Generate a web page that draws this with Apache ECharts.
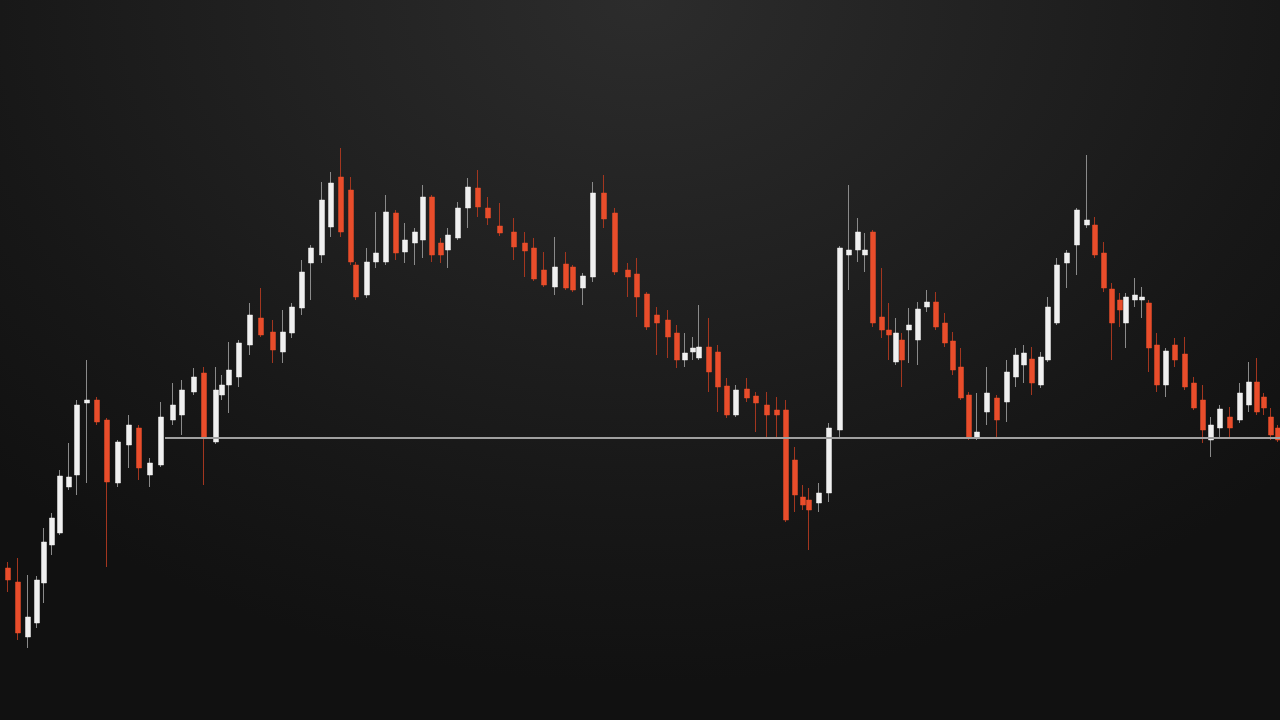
<!DOCTYPE html>
<html>
<head>
<meta charset="utf-8">
<script src="https://cdn.jsdelivr.net/npm/echarts@6/dist/echarts.min.js"></script>
<style>
  html, body { margin: 0; padding: 0; background: #141414; }
  #chart {
    width: 1280px; height: 720px;
    background: radial-gradient(ellipse 70% 95% at 50% 0%, #2c2c2c 0%, #212121 40%, #171717 75%, #111111 100%);
  }
</style>
</head>
<body>
<div id="chart"></div>
<script>
// time position of each session (irregular spacing)
const session = [8,18,28,37,44,52,60,69,77,87,97,107,118,129,139,150,161,173,182,194,204,216,222,229,239,250,261,273,283,292,302,311,322,331,341,351,356,367,376,386,396,405,415,423,432,441,448,458,468,478,488,500,514,525,534,544,555,566,573,583,593,604,615,628,637,647,657,668,677,685,693,699,709,718,727,736,747,756,767,777,786,795,803,809,819,829,840,849,858,865,873,882,889,896,902,909,918,927,936,945,953,961,969,977,987,997,1007,1016,1024,1032,1041,1048,1057,1067,1077,1087,1095,1104,1112,1120,1126,1135,1142,1149,1157,1166,1175,1185,1194,1203,1211,1220,1230,1240,1249,1257,1264,1271,1278];

const open = [
  152,138,83,97,137,175,187,233,245,317,
  320,300,237,275,292,245,255,300,305,328,
  347,278,325,335,343,375,402,388,368,387,
  412,457,465,493,543,530,455,425,458,458,
  507,468,477,480,523,477,470,482,512,532,
  512,494,488,477,472,450,433,456,453,432,
  443,527,507,450,446,426,405,400,387,360,
  368,362,373,368,334,305,331,324,315,310,
  310,260,223,220,217,227,290,465,470,465,
  488,403,390,358,380,390,380,413,418,397,
  379,353,325,282,308,322,318,343,355,361,
  335,360,397,457,475,495,495,467,431,420,
  397,420,420,417,375,335,375,366,337,320,
  280,292,303,300,315,338,323,303,292
];
const close = [
  140,87,103,140,178,202,244,243,315,320,
  298,238,278,295,252,257,303,315,330,343,
  283,330,335,350,377,405,385,370,388,413,
  448,472,520,537,488,458,423,458,467,508,
  467,480,488,523,465,465,485,512,533,513,
  502,487,473,469,441,435,453,432,430,444,
  527,501,448,443,423,393,397,383,360,367,
  372,373,348,333,305,330,322,317,305,305,
  200,225,215,210,227,292,472,470,488,470,
  397,390,385,387,360,395,411,418,393,377,
  350,322,282,288,327,300,348,365,367,337,
  363,413,455,467,510,500,465,432,397,410,
  423,425,423,372,335,369,360,333,312,290,
  295,311,292,327,338,308,312,285,280
];
const low = [
  128,80,72,92,117,165,185,230,225,237,
  295,153,233,252,240,233,253,295,285,325,
  235,276,320,307,333,365,383,357,357,382,
  405,420,457,483,483,455,420,422,452,455,
  460,457,455,462,458,457,452,480,492,503,
  495,484,460,443,439,433,425,430,428,415,
  438,492,445,423,403,390,365,362,352,353,
  360,360,328,308,302,303,318,288,282,283,
  198,208,210,170,208,218,282,430,458,448,
  393,382,360,355,333,357,355,408,390,373,
  345,320,280,280,295,282,298,333,337,325,
  332,358,395,432,445,492,462,428,360,393,
  372,413,402,348,328,323,353,330,310,277,
  263,283,283,297,308,305,305,280,278
];
const high = [
  158,162,145,144,192,207,250,277,320,360,
  323,302,280,305,295,262,318,337,340,352,
  353,353,345,378,380,417,432,400,410,417,
  460,475,538,548,572,543,458,472,508,525,
  510,497,492,535,525,482,492,518,542,550,
  523,517,502,488,482,468,483,468,455,447,
  538,545,512,457,462,428,413,410,395,387,
  383,415,402,375,342,335,342,328,328,323,
  320,273,235,232,237,297,474,535,502,487,
  490,452,417,402,387,412,418,430,428,407,
  388,372,328,327,353,325,360,372,375,373,
  368,423,462,470,512,565,503,478,437,427,
  427,442,433,420,387,372,382,383,343,335,
  303,315,313,337,358,362,327,312,295
];

// horizontal support level
const supportLevel = 282;
const supportStart = 165;

const wickData = session.map((t, i) => [t, open[i], close[i], low[i], high[i]]);
const bodyData = session.map((t, i) => [t, open[i], close[i], Math.min(open[i], close[i]), Math.max(open[i], close[i])]);

const chart = echarts.init(document.getElementById('chart'), null, { renderer: 'canvas' });
chart.setOption({
  backgroundColor: 'transparent',
  animation: false,
  grid: { left: 0, right: 0, top: 0, bottom: 0 },
  xAxis: { type: 'value', min: 0, max: 1280, show: false },
  yAxis: { type: 'value', min: 0, max: 720, show: false, scale: false },
  series: [
    {
      type: 'candlestick',
      name: 'wicks',
      data: wickData,
      encode: { x: 0, y: [1, 2, 3, 4] },
      barWidth: 1,
      z: 2,
      itemStyle: {
        color: '#8a8a8a', color0: '#a3361f',
        borderColor: '#8a8a8a', borderColor0: '#a3361f',
        borderWidth: 1
      },
      markLine: {
        silent: true,
        symbol: 'none',
        label: { show: false },
        lineStyle: { color: '#a0a0a0', width: 2, type: 'solid' },
        data: [[{ coord: [supportStart, supportLevel] }, { coord: [1280, supportLevel] }]]
      }
    },
    {
      type: 'candlestick',
      name: 'bodies',
      data: bodyData,
      encode: { x: 0, y: [1, 2, 3, 4] },
      barWidth: 5,
      z: 3,
      itemStyle: {
        color: '#f0f0f0', color0: '#e94d2b',
        borderColor: '#f0f0f0', borderColor0: '#e94d2b',
        borderWidth: 0.5
      }
    }
  ]
});
</script>
</body>
</html>
